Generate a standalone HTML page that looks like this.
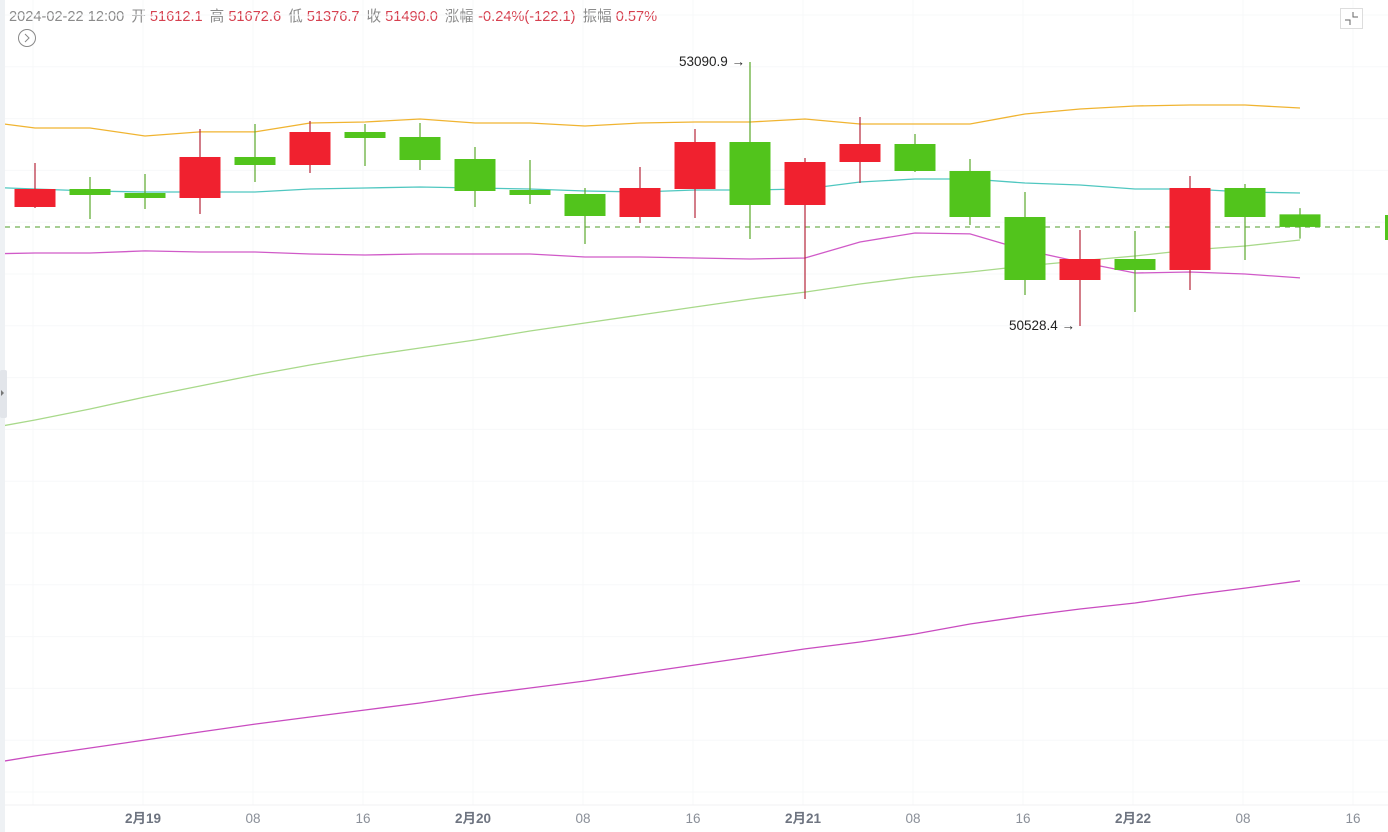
<!DOCTYPE html>
<html><head><meta charset="utf-8">
<style>
html,body{margin:0;padding:0;background:#fff;}
body{width:1388px;height:832px;overflow:hidden;position:relative;font-family:"Liberation Sans","Noto Sans CJK SC",sans-serif;}
#hdr{position:absolute;left:9px;top:5px;font-size:14.6px;color:#8a8a8a;white-space:nowrap;}
#hdr .v{color:#d6404f;font-weight:normal;}
#hdr span{margin-right:7px;}
svg{position:absolute;left:0;top:0;}
</style></head>
<body>
<div id="hdr"><span>2024-02-22 12:00</span><span>开 <b class="v">51612.1</b></span><span>高 <b class="v">51672.6</b></span><span>低 <b class="v">51376.7</b></span><span>收 <b class="v">51490.0</b></span><span>涨幅 <b class="v">-0.24%(-122.1)</b></span><span>振幅 <b class="v">0.57%</b></span></div>
<svg id="chart" width="1388" height="832"></svg>
<script>
const categories=["02-18 16","02-18 20","02-19 00","02-19 04","02-19 08","02-19 12","02-19 16","02-19 20","02-20 00","02-20 04","02-20 08","02-20 12","02-20 16","02-20 20","02-21 00","02-21 04","02-21 08","02-21 12","02-21 16","02-21 20","02-22 00","02-22 04","02-22 08","02-22 12"];
const opens=[51683.6,51858.3,51819.4,51770.9,52168.9,52091.2,52411.5,52363.0,52149.4,51848.6,51809.7,51586.5,51858.3,52314.4,51703.0,52120.3,52295.0,52033.0,51586.5,50975.0,51178.8,51072.1,51868.0,51612.1];
const highs=[52110.6,51974.7,52003.9,52440.6,52489.2,52518.3,52489.2,52498.9,52265.9,52139.7,51868.0,52071.8,52440.6,53090.9,52159.2,52557.1,52392.1,52149.4,51829.1,51460.3,51450.6,51984.4,51906.8,51672.6];
const lows=[51673.9,51567.1,51664.1,51615.6,51926.2,52013.6,52081.5,52042.7,51683.6,51712.7,51324.4,51528.3,51576.8,51373.0,50790.6,51916.5,52023.3,51508.8,50829.4,50528.4,50664.4,50878.0,51169.1,51376.7];
const closes=[51858.3,51800.0,51770.9,52168.9,52091.2,52411.5,52353.3,52139.7,51838.9,51800.0,51596.2,51868.0,52314.4,51703.0,52120.3,52295.0,52033.0,51586.5,50975.0,51178.8,51072.1,51868.0,51586.5,51490.0];
// indicator lines: first value is previous (off-screen) bar
const bandUpper=[52519,52450,52450,52373,52412,52412,52499,52509,52538,52499,52499,52470,52499,52509,52509,52538,52489,52489,52489,52586,52635,52664,52674,52674,52644];
const bandMid=[51878,51858,51839,51829,51829,51829,51858,51868,51878,51868,51858,51839,51829,51849,51849,51858,51926,51955,51955,51916,51897,51858,51858,51829,51819];
const bandLower=[51227,51237,51237,51257,51247,51247,51227,51218,51227,51227,51227,51198,51198,51189,51179,51189,51344,51431,51422,51266,51150,51043,51053,51033,50995];
const maLong=[49519,49616,49723,49839,49946,50053,50150,50237,50315,50393,50480,50558,50635,50713,50790,50858,50936,51004,51053,51111,51160,51208,51266,51305,51363];
const maLonger=[46268,46355,46433,46510,46588,46665,46733,46801,46869,46947,47015,47083,47161,47238,47316,47394,47461,47539,47636,47714,47782,47840,47917,47985,48055];
const xTickLabels=["2月19","08","16","2月20","08","16","2月21","08","16","2月22","08","16"];
const xTickBold=[true,false,false,true,false,false,true,false,false,true,false,false];

const NS="http://www.w3.org/2000/svg";
const svg=document.getElementById('chart');
function yS(p){return 62+(53090.9-p)/9.706;}
function xS(i){return 35+i*55;}
function mk(tag,attrs,parent){const e=document.createElementNS(NS,tag);for(const k in attrs)e.setAttribute(k,attrs[k]);(parent||svg).appendChild(e);return e;}

const defs=mk('defs',{});
const cp=mk('clipPath',{id:'plot'},defs);
mk('rect',{x:5,y:0,width:1383,height:805},cp);

const grid=mk('g',{});


for(let k=0;k<16;k++){mk('line',{x1:5,x2:1388,y1:15+51.8*k,y2:15+51.8*k,stroke:'#f7f8fa','stroke-width':1},grid);}
for(let k=-1;k<12;k++){const gx=143+110*k;mk('line',{x1:gx,x2:gx,y1:0,y2:805,stroke:'#f7f8fa','stroke-width':1},grid);}
mk('rect',{x:0,y:0,width:5,height:832,fill:'#eef1f4'});
mk('line',{x1:5,x2:1388,y1:805,y2:805,stroke:'#f0f1f3'});

const lineDefs=[[bandUpper,'#f0b431','upper-band-line'],[bandMid,'#4fc7c0','middle-band-line'],[bandLower,'#d05ac8','lower-band-line'],[maLong,'#a8d98a','ma-long-line'],[maLonger,'#c94bc0','ma-longer-line']];
const lg=mk('g',{'clip-path':'url(#plot)'});
lineDefs.forEach(([arr,col,name])=>{
  const pts=arr.map((v,j)=>xS(j-1).toFixed(1)+','+yS(v).toFixed(1)).join(' ');
  const pl=mk('polyline',{points:pts,fill:'none',stroke:col,'stroke-width':1.3},lg);
  
  
});

const lastY=yS(closes[closes.length-1]);
const dl=mk('line',{x1:5,x2:1388,y1:lastY,y2:lastY,stroke:'#4f9e2a','stroke-width':1,'stroke-dasharray':'5,5'});



const cg=mk('g',{});
for(let i=0;i<categories.length;i++){
  const up=closes[i]>=opens[i];
  const col=up?'#f0212f':'#52c41c';
  const wc=up?'#b5263a':'#5aa82a';
  const x=xS(i);
  const w=mk('line',{x1:x,x2:x,y1:yS(highs[i]),y2:yS(lows[i]),stroke:wc,'stroke-width':1.2},cg);
  
  
  const top=yS(Math.max(opens[i],closes[i])),bot=yS(Math.min(opens[i],closes[i]));
  const r=mk('rect',{x:x-20.5,y:top,width:41,height:Math.max(1,bot-top),fill:col},cg);
  
  
}
const pc=mk('rect',{x:1385,y:215,width:3,height:25,fill:'#52c41c'});



function ann(i,p,anchorX,txt,name){
  const t=mk('text',{x:anchorX,y:yS(p)+4,'font-size':13.5,fill:'#222','text-anchor':'end','font-family':'Liberation Sans, sans-serif'});
  t.textContent=txt;
  
  
}
let hi=0,lo=0;highs.forEach((v,i)=>{if(v>highs[hi])hi=i;});lows.forEach((v,i)=>{if(v<lows[lo])lo=i;});
ann(hi,highs[hi],xS(hi)-5,highs[hi].toFixed(1)+' →','max-price-label');
ann(lo,lows[lo],xS(lo)-5,lows[lo].toFixed(1)+' →','min-price-label');

xTickLabels.forEach((s,k)=>{
  const t=mk('text',{x:143+110*k,y:823,'font-size':13.5,fill:xTickBold[k]?'#6e7480':'#8a8f98','font-weight':xTickBold[k]?'bold':'normal','text-anchor':'middle','font-family':'Liberation Sans, Noto Sans CJK SC, sans-serif'});
  t.textContent=s;
  
  
});

const ic=mk('g',{});


mk('circle',{cx:27,cy:38,r:8.5,fill:'none',stroke:'#888','stroke-width':1},ic);
mk('polyline',{points:'25,34 29,38 25,42',fill:'none',stroke:'#888','stroke-width':1},ic);
const fs=mk('g',{});


mk('rect',{x:1340.5,y:8.5,width:22,height:20,fill:'#fff',stroke:'#ddd'},fs);
mk('polyline',{points:'1345,20 1350,20 1350,25',fill:'none',stroke:'#666'},fs);
mk('polyline',{points:'1353,12 1353,17 1358,17',fill:'none',stroke:'#666'},fs);
const tab=mk('g',{});


mk('rect',{x:0,y:370,width:7,height:48,fill:'#e2e5ea',rx:2},tab);
mk('polygon',{points:'1,390 4,393 1,396',fill:'#777'},tab);
</script>
</body></html>
